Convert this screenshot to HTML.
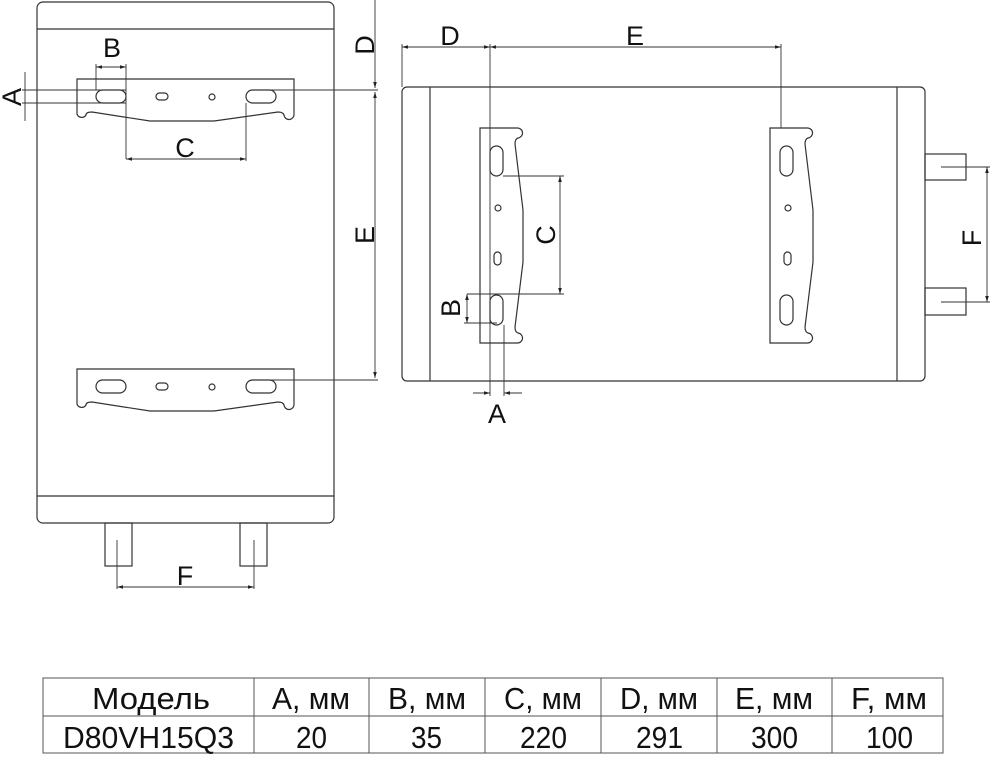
<!DOCTYPE html>
<html><head><meta charset="utf-8"><style>
html,body{margin:0;padding:0;background:#fff;}
svg{display:block;}
text{font-family:"Liberation Sans",sans-serif;fill:#111;}
</style></head><body>
<svg width="990" height="762" viewBox="0 0 990 762" xmlns="http://www.w3.org/2000/svg">
<defs>
<marker id="ar" viewBox="0 0 10 6" refX="10" refY="3" markerWidth="8" markerHeight="4" orient="auto-start-reverse"><path d="M0,0 L10,3 L0,6 z" fill="#222"/></marker>
</defs>
<g fill="none" stroke="#333" stroke-width="1.2">
<rect x="37" y="2" width="297" height="521" rx="6"/>
<line x1="37" y1="29" x2="334" y2="29"/>
<line x1="37" y1="496" x2="334" y2="496"/>
<path d="M77,79 H294 V114 A5,5 0 0 1 284,115 Q283,112 278,112 L214,121 H150 L92,112 Q86,112 86,115 A5,5 0 0 1 77,114 Z"/>
<rect x="96" y="90" width="30" height="13" rx="6.5"/>
<rect x="156" y="93" width="12" height="7" rx="3.5"/>
<circle cx="212" cy="97" r="3"/>
<rect x="246" y="90" width="30" height="13" rx="6.5"/>
<path d="M77,369 H294 V404 A5,5 0 0 1 284,405 Q283,402 278,402 L214,411 H150 L92,402 Q86,402 86,405 A5,5 0 0 1 77,404 Z"/>
<rect x="96" y="380" width="30" height="13" rx="6.5"/>
<rect x="156" y="383" width="12" height="7" rx="3.5"/>
<circle cx="212" cy="387" r="3"/>
<rect x="246" y="380" width="30" height="13" rx="6.5"/>
<rect x="105" y="523" width="27" height="43"/>
<rect x="240" y="523" width="27" height="43"/>
</g>
<g fill="none" stroke="#333" stroke-width="0.9">
<line x1="117" y1="540" x2="117" y2="589"/>
<line x1="254" y1="540" x2="254" y2="589"/>
<line x1="117" y1="587" x2="254" y2="587" marker-start="url(#ar)" marker-end="url(#ar)"/>
<line x1="22" y1="90" x2="126" y2="90"/>
<line x1="22" y1="103" x2="126" y2="103"/>
<line x1="25" y1="72" x2="25" y2="121"/>
<line x1="96" y1="64" x2="96" y2="90"/>
<line x1="126" y1="64" x2="126" y2="159"/>
<line x1="96" y1="67" x2="126" y2="67" marker-start="url(#ar)" marker-end="url(#ar)"/>
<line x1="246" y1="103" x2="246" y2="161"/>
<line x1="126" y1="159" x2="246" y2="159" marker-start="url(#ar)" marker-end="url(#ar)"/>
<line x1="260" y1="90" x2="378" y2="90"/>
<line x1="270" y1="380" x2="378" y2="380"/>
<line x1="375" y1="0" x2="375" y2="88" marker-end="url(#ar)"/>
<line x1="375" y1="92" x2="375" y2="378" marker-start="url(#ar)" marker-end="url(#ar)"/>
</g>
<g font-size="27" text-anchor="middle">
<text x="112" y="57">B</text>
<text x="185" y="157">C</text>
<text x="185" y="585">F</text>
<text transform="translate(21,97) rotate(-90)">A</text>
<text transform="translate(374,45) rotate(-90)">D</text>
<text transform="translate(374,235) rotate(-90)">E</text>
</g>

<g fill="none" stroke="#333" stroke-width="1.2">
<rect x="402" y="87" width="523" height="294" rx="5"/>
<line x1="430" y1="87" x2="430" y2="381"/>
<line x1="897" y1="87" x2="897" y2="381"/>
<path d="M480,128 H517 A5,5 0 0 1 518,138 Q515,139 515,144 L523,210 V262 L515,327 Q515,332 518,333 A5,5 0 0 1 517,343 H480 Z"/>
<rect x="490" y="146" width="13" height="30" rx="6.5"/>
<circle cx="498" cy="208" r="3"/>
<rect x="494" y="252" width="7" height="13" rx="3.5"/>
<rect x="490" y="295" width="13" height="30" rx="6.5"/>
<path d="M770,128 H807 A5,5 0 0 1 808,138 Q805,139 805,144 L813,210 V262 L805,327 Q805,332 808,333 A5,5 0 0 1 807,343 H770 Z"/>
<rect x="780" y="146" width="13" height="30" rx="6.5"/>
<circle cx="788" cy="208" r="3"/>
<rect x="784" y="252" width="7" height="13" rx="3.5"/>
<rect x="780" y="295" width="13" height="30" rx="6.5"/>
<rect x="925" y="154" width="41" height="26"/>
<rect x="925" y="288" width="41" height="27"/>
</g>
<g fill="none" stroke="#333" stroke-width="0.9">
<line x1="402" y1="44" x2="402" y2="87"/>
<line x1="490" y1="44" x2="490" y2="396"/>
<line x1="504" y1="325" x2="504" y2="396"/>
<line x1="781" y1="44" x2="781" y2="128"/>
<line x1="402" y1="47" x2="490" y2="47" marker-start="url(#ar)" marker-end="url(#ar)"/>
<line x1="490" y1="47" x2="781" y2="47" marker-start="url(#ar)" marker-end="url(#ar)"/>
<line x1="473" y1="393" x2="490" y2="393" marker-end="url(#ar)"/>
<line x1="522" y1="393" x2="504" y2="393" marker-end="url(#ar)"/>
<line x1="503" y1="176" x2="564" y2="176"/>
<line x1="467" y1="294" x2="564" y2="294"/>
<line x1="464" y1="323" x2="497" y2="323"/>
<line x1="560" y1="176" x2="560" y2="294" marker-start="url(#ar)" marker-end="url(#ar)"/>
<line x1="467" y1="294" x2="467" y2="323" marker-start="url(#ar)" marker-end="url(#ar)"/>
<line x1="941" y1="167" x2="990" y2="167"/>
<line x1="941" y1="302" x2="990" y2="302"/>
<line x1="987" y1="167" x2="987" y2="302" marker-start="url(#ar)" marker-end="url(#ar)"/>
</g>
<g font-size="27" text-anchor="middle">
<text x="450" y="45">D</text>
<text x="635" y="45">E</text>
<text x="497" y="423">A</text>
<text transform="translate(555,235) rotate(-90)">C</text>
<text transform="translate(460,308) rotate(-90)">B</text>
<text transform="translate(981,238) rotate(-90)">F</text>
</g>

<g fill="none" stroke="#555" stroke-width="1">
<rect x="43" y="678" width="900" height="75"/>
<line x1="43" y1="716" x2="943" y2="716"/>
<line x1="254" y1="678" x2="254" y2="753"/>
<line x1="369" y1="678" x2="369" y2="753"/>
<line x1="485" y1="678" x2="485" y2="753"/>
<line x1="601" y1="678" x2="601" y2="753"/>
<line x1="717" y1="678" x2="717" y2="753"/>
<line x1="832" y1="678" x2="832" y2="753"/>
</g>
<g font-size="31">
<text x="92" y="709" textLength="118" lengthAdjust="spacingAndGlyphs">Модель</text>
<text x="272" y="709" textLength="78" lengthAdjust="spacingAndGlyphs">A, мм</text>
<text x="388" y="709" textLength="78" lengthAdjust="spacingAndGlyphs">B, мм</text>
<text x="504" y="709" textLength="78" lengthAdjust="spacingAndGlyphs">C, мм</text>
<text x="620" y="709" textLength="78" lengthAdjust="spacingAndGlyphs">D, мм</text>
<text x="735" y="709" textLength="78" lengthAdjust="spacingAndGlyphs">E, мм</text>
<text x="851" y="709" textLength="76" lengthAdjust="spacingAndGlyphs">F, мм</text>
<text x="63" y="748" textLength="171" lengthAdjust="spacingAndGlyphs">D80VH15Q3</text>
<text x="296" y="748" textLength="31" lengthAdjust="spacingAndGlyphs">20</text>
<text x="411" y="748" textLength="31" lengthAdjust="spacingAndGlyphs">35</text>
<text x="520" y="748" textLength="47" lengthAdjust="spacingAndGlyphs">220</text>
<text x="636" y="748" textLength="47" lengthAdjust="spacingAndGlyphs">291</text>
<text x="751" y="748" textLength="47" lengthAdjust="spacingAndGlyphs">300</text>
<text x="866" y="748" textLength="47" lengthAdjust="spacingAndGlyphs">100</text>
</g>
</svg>
</body></html>
